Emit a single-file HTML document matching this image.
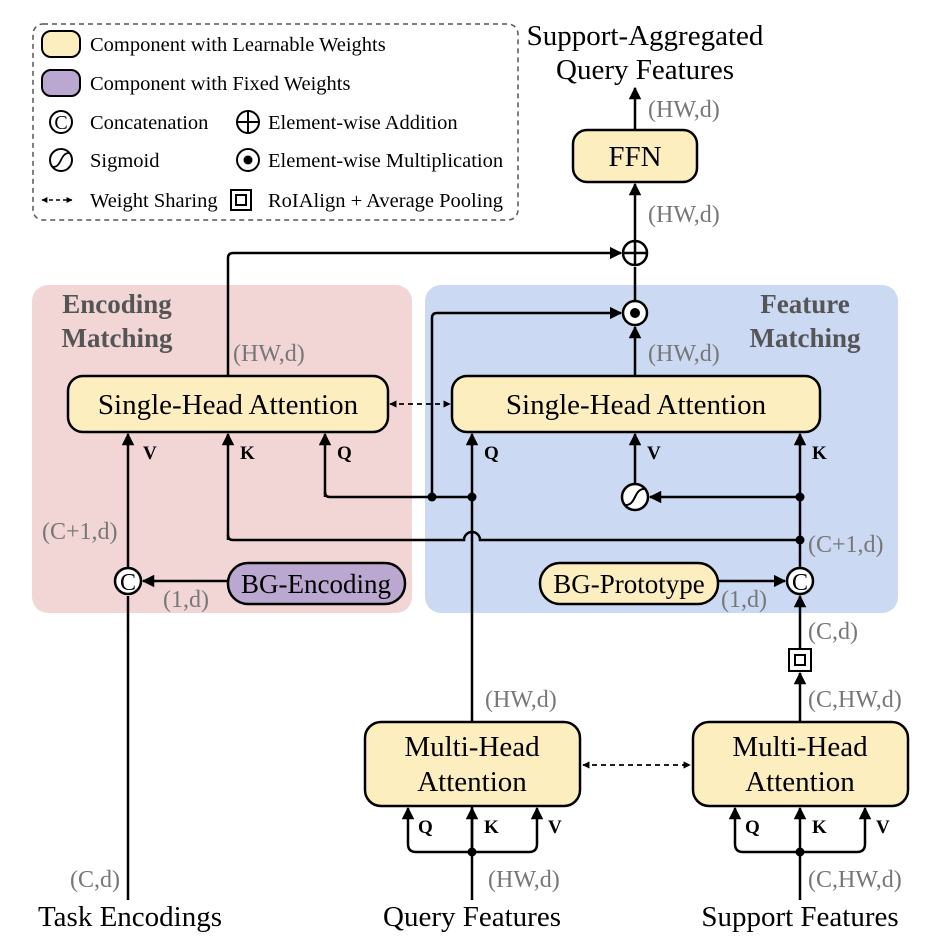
<!DOCTYPE html><html><head><style>body{margin:0;background:#fff}svg{display:block}text{font-family:"Liberation Serif",serif}</style></head><body>
<svg width="940" height="950" viewBox="0 0 940 950" xmlns="http://www.w3.org/2000/svg">
<defs><marker id="a" viewBox="0 0 10 10" refX="9" refY="5" markerWidth="5" markerHeight="5" orient="auto-start-reverse"><path d="M0,0L10,5L0,10z" fill="#000"/></marker>
<marker id="s" viewBox="0 0 10 10" refX="9" refY="5" markerWidth="4" markerHeight="4" orient="auto-start-reverse"><path d="M0,0L10,5L0,10z" fill="#000"/></marker></defs>
<rect x="33" y="24" width="485" height="196" rx="10" fill="none" stroke="#555" stroke-width="1.5" stroke-dasharray="5,4"/>
<g font-size="20.5">
<rect x="42" y="31" width="38" height="26" rx="9" fill="#fdeec0" stroke="#000" stroke-width="2"/><text x="90" y="51">Component with Learnable Weights</text>
<rect x="42" y="70" width="38" height="26" rx="9" fill="#bba8d0" stroke="#000" stroke-width="2"/><text x="90" y="90">Component with Fixed Weights</text>
<circle cx="61" cy="122" r="11" fill="none" stroke="#000" stroke-width="2"/><text x="61" y="129" font-size="20" text-anchor="middle">C</text><text x="90" y="129">Concatenation</text>
<circle cx="248" cy="122" r="11" fill="none" stroke="#000" stroke-width="2"/><path d="M237,122h22M248,111v22" stroke="#000" stroke-width="2"/><text x="268" y="129">Element-wise Addition</text>
<circle cx="61" cy="160" r="11" fill="none" stroke="#000" stroke-width="2"/><path d="M53,167C62,167 60,153 69,153" fill="none" stroke="#000" stroke-width="1.8"/><text x="90" y="167">Sigmoid</text>
<circle cx="248" cy="160" r="11" fill="none" stroke="#000" stroke-width="2"/><circle cx="248" cy="160" r="4.5"/><text x="268" y="167">Element-wise Multiplication</text>
<path d="M42,200h30" stroke="#000" stroke-width="1.5" stroke-dasharray="4,3" marker-start="url(#s)" marker-end="url(#s)"/><text x="90" y="207">Weight Sharing</text>
<rect x="231" y="190" width="20" height="20" fill="none" stroke="#000" stroke-width="2"/><rect x="236" y="195" width="10" height="10" fill="none" stroke="#000" stroke-width="2"/><text x="268" y="207">RoIAlign + Average Pooling</text>
</g>
<rect x="32" y="285" width="380" height="328" rx="16" fill="#f2d6d6"/>
<rect x="425" y="285" width="473" height="328" rx="16" fill="#cbd9f3"/>
<g font-size="27" font-weight="bold" fill="#555" text-anchor="middle"><text x="117" y="313">Encoding</text><text x="117" y="347">Matching</text><text x="805" y="313">Feature</text><text x="805" y="347">Matching</text></g>
<text x="645" y="45" font-size="29" text-anchor="middle">Support-Aggregated</text>
<text x="645" y="79" font-size="29" text-anchor="middle">Query Features</text>
<g fill="none" stroke="#000" stroke-width="2.5">
<path d="M635,130V88" marker-end="url(#a)"/>
<path d="M635,241V184" marker-end="url(#a)"/>
<path d="M635,301V267"/>
<path d="M635,376V327" marker-end="url(#a)"/>
<path d="M228,376V258q0,-5 5,-5H621" marker-end="url(#a)"/>
<path d="M432,497V318q0,-5 5,-5H621" marker-end="url(#a)"/>
<path d="M390,404H450" stroke-width="1.8" stroke-dasharray="5,4" marker-start="url(#s)" marker-end="url(#s)"/>
<path d="M128,900V596"/>
<path d="M128,568V434" marker-end="url(#a)"/>
<path d="M228,540V434" marker-end="url(#a)"/>
<path d="M325,497V434" marker-end="url(#a)"/>
<path d="M325,492q0,5 5,5H472"/>
<path d="M228,535q0,5 5,5H464a8,8 0 0 1 16,0H800"/>
<path d="M472,900V434" marker-end="url(#a)"/>
<path d="M800,497H650" marker-end="url(#a)"/>
<path d="M635,484V434" marker-end="url(#a)"/>
<path d="M800,568V434" marker-end="url(#a)"/>
<path d="M800,649V596" marker-end="url(#a)"/>
<path d="M800,722V673" marker-end="url(#a)"/>
<path d="M405,581H143" marker-end="url(#a)"/>
<path d="M718,581H785" marker-end="url(#a)"/>
<path d="M583,765H690" stroke-width="1.8" stroke-dasharray="5,4" marker-start="url(#s)" marker-end="url(#s)"/>
<path d="M408,808V844q0,8 8,8H529q8,0 8,-8V808" marker-start="url(#a)" marker-end="url(#a)"/>
<path d="M472,852V808" marker-end="url(#a)"/>
<path d="M735,808V844q0,8 8,8H857q8,0 8,-8V808" marker-start="url(#a)" marker-end="url(#a)"/>
<path d="M800,900V808" marker-end="url(#a)"/>
</g>
<g>
<circle cx="432" cy="497" r="4.5"/><circle cx="472" cy="497" r="4.5"/><circle cx="800" cy="497" r="4.5"/><circle cx="800" cy="540" r="4.5"/><circle cx="472" cy="852" r="4.5"/><circle cx="800" cy="852" r="4.5"/>
</g>
<g fill="#fff" stroke="#000" stroke-width="2.5">
<circle cx="635" cy="253" r="12"/><circle cx="635" cy="313" r="12"/>
<circle cx="635" cy="497" r="13"/><circle cx="128" cy="581" r="13"/><circle cx="800" cy="581" r="13"/>
<rect x="789" y="649" width="22" height="22" stroke-width="2"/><rect x="795" y="655" width="10" height="10" stroke-width="2"/>
</g>
<path d="M623,253h24M635,241v24" stroke="#000" stroke-width="2.5"/><circle cx="635" cy="313" r="5"/>
<path d="M626,505C636,505 634,489 644,489" fill="none" stroke="#000" stroke-width="2"/>
<text x="128" y="590" font-size="24" text-anchor="middle">C</text><text x="800" y="590" font-size="24" text-anchor="middle">C</text>
<g stroke="#000" stroke-width="2.5">
<rect x="573" y="130" width="124" height="52" rx="14" fill="#fdeec0"/>
<rect x="68" y="376" width="320" height="56" rx="15" fill="#fdeec0"/>
<rect x="452" y="376" width="368" height="56" rx="15" fill="#fdeec0"/>
<rect x="540" y="563" width="178" height="41" rx="20" fill="#fdeec0"/>
<rect x="228" y="563" width="177" height="41" rx="20" fill="#bba8d0"/>
<rect x="365" y="722" width="215" height="84" rx="16" fill="#fdeec0"/>
<rect x="693" y="722" width="215" height="84" rx="16" fill="#fdeec0"/>
</g>
<g font-size="29" text-anchor="middle">
<text x="635" y="166">FFN</text>
<text x="228" y="414">Single-Head Attention</text>
<text x="636" y="414">Single-Head Attention</text>
<text x="629" y="593" font-size="27">BG-Prototype</text>
<text x="316" y="593" font-size="27">BG-Encoding</text>
<text x="472" y="756">Multi-Head</text><text x="472" y="791">Attention</text>
<text x="800" y="756">Multi-Head</text><text x="800" y="791">Attention</text>
<text x="130" y="926">Task Encodings</text><text x="472" y="926">Query Features</text><text x="800" y="926">Support Features</text>
</g>
<g font-size="19" font-weight="bold">
<text x="143" y="459">V</text><text x="240" y="459">K</text><text x="337" y="459">Q</text>
<text x="484" y="459">Q</text><text x="647" y="459">V</text><text x="812" y="459">K</text>
<text x="418" y="833">Q</text><text x="484" y="833">K</text><text x="548" y="833">V</text>
<text x="745" y="833">Q</text><text x="812" y="833">K</text><text x="876" y="833">V</text>
</g>
<g font-size="24" fill="#777">
<text x="648" y="117">(HW,d)</text><text x="648" y="222">(HW,d)</text><text x="648" y="361">(HW,d)</text><text x="233" y="361">(HW,d)</text>
<text x="42" y="539">(C+1,d)</text><text x="808" y="552">(C+1,d)</text>
<text x="163" y="607">(1,d)</text><text x="721" y="607">(1,d)</text>
<text x="808" y="639">(C,d)</text><text x="808" y="707">(C,HW,d)</text><text x="485" y="707">(HW,d)</text>
<text x="70" y="887">(C,d)</text><text x="488" y="887">(HW,d)</text><text x="808" y="887">(C,HW,d)</text>
</g>
</svg></body></html>
